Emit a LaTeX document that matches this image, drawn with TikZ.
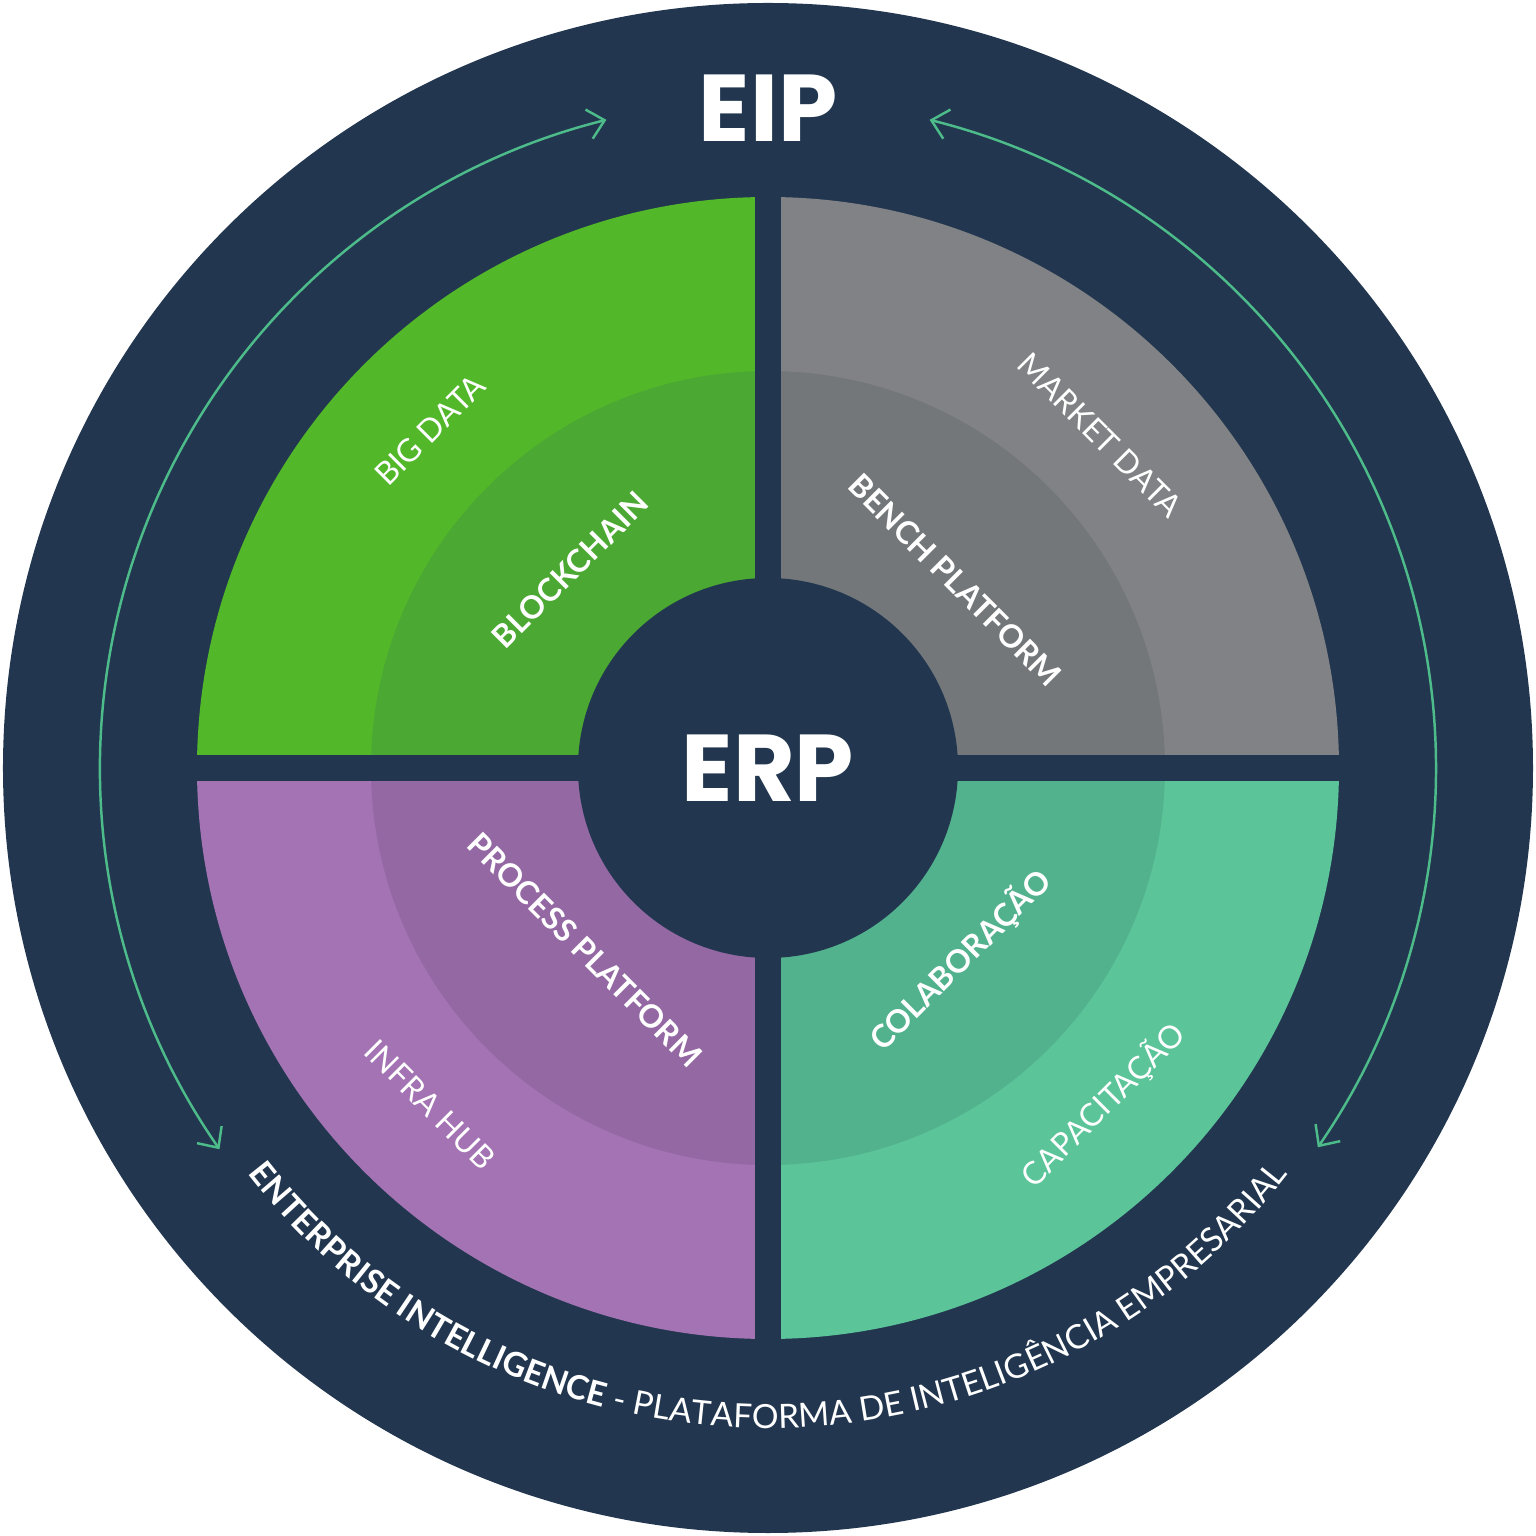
\documentclass[tikz,border=0pt]{standalone}
\usepackage{fontspec}
\setmainfont{Lato}
\newfontfamily\heavyfont{Poppins}
\usetikzlibrary{decorations.text}
\usetikzlibrary{arrows.meta}

\definecolor{navy}{HTML}{22374F}
\definecolor{greenA}{HTML}{52B82A}
\definecolor{greenB}{HTML}{4BA832}
\definecolor{greyA}{HTML}{818285}
\definecolor{greyB}{HTML}{73777A}
\definecolor{purpleA}{HTML}{A373B3}
\definecolor{purpleB}{HTML}{9368A3}
\definecolor{tealA}{HTML}{5BC499}
\definecolor{tealB}{HTML}{52B28D}
\definecolor{arrowcol}{HTML}{4DBB8A}

\tikzset{
	thin label/.style={text=white,font=\fontsize{9}{10}\selectfont,inner sep=0pt},
	bold label/.style={text=white,font=\fontsize{9}{10}\selectfont\bfseries,inner sep=0pt},
	big label/.style={text=white,font=\fontsize{27}{30}\selectfont\heavyfont\bfseries},
	cycle arrow/.style={draw=arrowcol,line width=0.7pt,{Straight Barb[length=1.6mm,width=3mm]}-{Straight Barb[length=1.6mm,width=3mm]}}
}

\begin{document}
\begin{tikzpicture}
	\useasboundingbox (-7.68,-7.68) rectangle (7.68,7.68);
	\fill[navy] (0,0) circle (7.65);

	\newcommand\drawQuarter[4]{
		\fill[#3] (0,0) -- (#1:5.71) arc (#1:#2:5.71) -- cycle;
		\fill[#4] (0,0) -- (#1:3.97) arc (#1:#2:3.97) -- cycle;
	}
	\drawQuarter{90}{180}{greenA}{greenB}
	\drawQuarter{0}{90}{greyA}{greyB}
	\drawQuarter{180}{270}{purpleA}{purpleB}
	\drawQuarter{270}{360}{tealA}{tealB}

	% separating cross and centre
	\fill[navy] (-6,-0.13) rectangle (6,0.13);
	\fill[navy] (-0.13,-6) rectangle (0.13,6);
	\fill[navy] (0,0) circle (1.9);

	\node[big label] (erp) at (0,0) {ERP};
	\node[big label] (eip) at (0,6.6) {EIP};

	\node[thin label,rotate=45] (bigdata) at (-3.38,3.38) {BIG DATA};
	\node[bold label,rotate=45] (blockchain) at (-1.98,1.98) {BLOCKCHAIN};
	\node[thin label,rotate=-45] (market) at (3.32,3.33) {MARKET DATA};
	\node[bold label,rotate=-45] (bench) at (1.87,1.88) {BENCH PLATFORM};
	\node[bold label,rotate=-45] (process) at (-1.83,-1.82) {PROCESS PLATFORM};
	\node[thin label,rotate=-45] (infra) at (-3.38,-3.37) {INFRA HUB};
	\node[bold label,rotate=45] (colab) at (1.92,-1.92) {COLABORAÇÃO};
	\node[thin label,rotate=45] (capac) at (3.35,-3.37) {CAPACITAÇÃO};

	% cycle arrows
	\draw[cycle arrow] (214.8:6.68) arc (214.8:104:6.68);
	\draw[cycle arrow] (76:6.68) arc (76:-34.6:6.68);

	% curved caption
	\path[decorate,decoration={text along path,text align=center,
		text={|\color{white}\fontsize{9.5}{10}\selectfont\bfseries|ENTERPRISE INTELLIGENCE |\color{white}\fontsize{9.5}{10}\selectfont|- PLATAFORMA DE INTELIGÊNCIA EMPRESARIAL}}]
		(212:6.6) arc (212:328:6.6);
\end{tikzpicture}
\end{document}
